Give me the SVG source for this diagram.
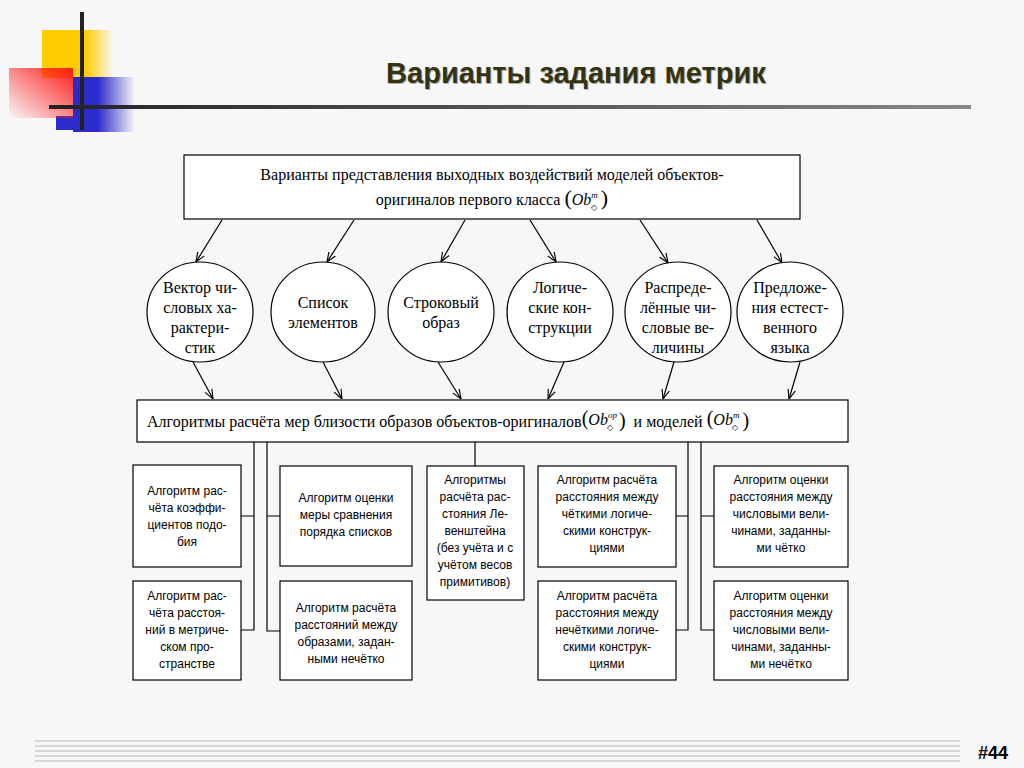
<svg xmlns="http://www.w3.org/2000/svg" width="1024" height="768" viewBox="0 0 1024 768">
<defs>
<linearGradient id="yel" x1="0" x2="1"><stop offset="0.6" stop-color="#ffcc00"/><stop offset="1" stop-color="#ffcc00" stop-opacity="0"/></linearGradient>
<linearGradient id="blu" x1="0" x2="1"><stop offset="0.4" stop-color="#2b2bcc"/><stop offset="1" stop-color="#2b2bcc" stop-opacity="0"/></linearGradient>
<linearGradient id="red" x1="1" y1="0" x2="0" y2="1"><stop offset="0" stop-color="#ff1a1a"/><stop offset="1" stop-color="#ff1a1a" stop-opacity="0"/></linearGradient>
<linearGradient id="hl" x1="0" x2="1"><stop offset="0" stop-color="#222"/><stop offset="1" stop-color="#888"/></linearGradient>
<marker id="ar" viewBox="0 0 10 10" refX="10" refY="5" markerWidth="8" markerHeight="8" orient="auto"><path d="M0,1 L10,5 L0,9" fill="none" stroke="#000" stroke-width="1.2"/></marker>
<style>
.b{fill:#fff;stroke:#000;stroke-width:1.2}
.s{font-family:"Liberation Serif","Times New Roman",serif;font-size:16px;fill:#000;text-anchor:middle}
.st{text-anchor:start}
.a{font-family:"Liberation Sans",sans-serif;font-size:12px;fill:#000;text-anchor:middle}
.c line,.c path{stroke:#000;stroke-width:1.2;fill:none}
.i{font-style:italic}
</style>
</defs>
<rect width="1024" height="768" fill="#f7f7f7"/>
<g id="logo">
<rect x="42" y="30" width="72" height="48" fill="url(#yel)"/>
<rect x="73" y="77" width="62" height="55" fill="url(#blu)"/>
<rect x="56" y="116" width="25" height="14" fill="#2b2bcc"/>
<rect x="9" y="68" width="64" height="50" fill="url(#red)"/>
<rect x="80" y="12" width="4" height="118" fill="#222"/>
<rect x="49" y="105" width="922" height="4" fill="url(#hl)"/>
</g>
<text x="577" y="84" font-family="Liberation Sans,sans-serif" font-size="29" font-weight="bold" fill="#aaa" text-anchor="middle">Варианты задания метрик</text>
<text x="576" y="83" font-family="Liberation Sans,sans-serif" font-size="29" font-weight="bold" fill="#333310" text-anchor="middle">Варианты задания метрик</text>
<g id="top"><rect class="b" x="184" y="155" width="616" height="64"/>
<text class="s" x="492" y="180">Варианты представления выходных воздействий моделей объектов-</text>
<text class="s" x="492" y="205">оригиналов первого класса <tspan font-size="22">(</tspan><tspan class="i">Ob</tspan><tspan class="i" font-size="9" dy="-7">m</tspan><tspan font-size="8" dx="-7" dy="12">◇</tspan><tspan font-size="22" dx="4" dy="-5">)</tspan></text></g>
<g id="e1"><ellipse class="b" cx="200" cy="312" rx="53" ry="50"/><text class="s" x="200" y="293">Вектор чи-</text><text class="s" x="200" y="313">словых ха-</text><text class="s" x="200" y="333">рактери-</text><text class="s" x="200" y="353">стик</text></g>
<g id="e2"><ellipse class="b" cx="323" cy="312" rx="52" ry="50"/><text class="s" x="323" y="308">Список</text><text class="s" x="323" y="328">элементов</text></g>
<g id="e3"><ellipse class="b" cx="441" cy="312" rx="53" ry="50"/><text class="s" x="441" y="308">Строковый</text><text class="s" x="441" y="328">образ</text></g>
<g id="e4"><ellipse class="b" cx="560" cy="312" rx="53" ry="50"/><text class="s" x="560" y="293">Логиче-</text><text class="s" x="560" y="313">ские кон-</text><text class="s" x="560" y="333">струкции</text></g>
<g id="e5"><ellipse class="b" cx="678" cy="312" rx="53" ry="50"/><text class="s" x="678" y="293">Распреде-</text><text class="s" x="678" y="313">лённые чи-</text><text class="s" x="678" y="333">словые ве-</text><text class="s" x="678" y="353">личины</text></g>
<g id="e6"><ellipse class="b" cx="790" cy="312" rx="53" ry="50"/><text class="s" x="790" y="293">Предложе-</text><text class="s" x="790" y="313">ния естест-</text><text class="s" x="790" y="333">венного</text><text class="s" x="790" y="353">языка</text></g>
<g id="bar"><rect class="b" x="137" y="400" width="711" height="42"/>
<text class="s st" x="147" y="427">Алгоритмы расчёта мер близости образов объектов-оригиналов<tspan font-size="20" dy="-2">(</tspan><tspan class="i">Ob</tspan><tspan class="i" font-size="9" dy="-7">op</tspan><tspan font-size="8" dx="-10" dy="12">◇</tspan><tspan font-size="20" dx="6" dy="-3">)</tspan><tspan dx="8">и моделей </tspan><tspan font-size="20" dy="-2">(</tspan><tspan class="i">Ob</tspan><tspan class="i" font-size="9" dy="-7">m</tspan><tspan font-size="8" dx="-7" dy="12">◇</tspan><tspan font-size="20" dx="4" dy="-3">)</tspan></text></g>
<g id="b1"><rect class="b" x="133" y="465" width="108" height="102"/><text class="a" x="187" y="495">Алгоритм рас-</text><text class="a" x="187" y="512">чёта коэффи-</text><text class="a" x="187" y="529">циентов подо-</text><text class="a" x="187" y="546">бия</text></g>
<g id="b2"><rect class="b" x="133" y="581" width="108" height="99"/><text class="a" x="187" y="600">Алгоритм рас-</text><text class="a" x="187" y="617">чёта расстоя-</text><text class="a" x="187" y="634">ний в метриче-</text><text class="a" x="187" y="651">ском про-</text><text class="a" x="187" y="668">странстве</text></g>
<g id="b3"><rect class="b" x="280" y="466" width="132" height="100"/><text class="a" x="346" y="502">Алгоритм оценки</text><text class="a" x="346" y="519">меры сравнения</text><text class="a" x="346" y="536">порядка списков</text></g>
<g id="b4"><rect class="b" x="280" y="581" width="132" height="99"/><text class="a" x="346" y="612">Алгоритм расчёта</text><text class="a" x="346" y="629">расстояний между</text><text class="a" x="346" y="646">образами, задан-</text><text class="a" x="346" y="663">ными нечётко</text></g>
<g id="b5"><rect class="b" x="427" y="466" width="97" height="134"/><text class="a" x="475" y="484">Алгоритмы</text><text class="a" x="475" y="501">расчёта рас-</text><text class="a" x="475" y="518">стояния Ле-</text><text class="a" x="475" y="535">венштейна</text><text class="a" x="475" y="552">(без учёта и с</text><text class="a" x="475" y="569">учётом весов</text><text class="a" x="475" y="586">примитивов)</text></g>
<g id="b6"><rect class="b" x="538" y="466" width="138" height="101"/><text class="a" x="607" y="484">Алгоритм расчёта</text><text class="a" x="607" y="501">расстояния между</text><text class="a" x="607" y="518">чёткими логиче-</text><text class="a" x="607" y="535">скими конструк-</text><text class="a" x="607" y="552">циями</text></g>
<g id="b7"><rect class="b" x="538" y="581" width="138" height="99"/><text class="a" x="607" y="600">Алгоритм расчёта</text><text class="a" x="607" y="617">расстояния между</text><text class="a" x="607" y="634">нечёткими логиче-</text><text class="a" x="607" y="651">скими конструк-</text><text class="a" x="607" y="668">циями</text></g>
<g id="b8"><rect class="b" x="714" y="466" width="134" height="101"/><text class="a" x="781" y="484">Алгоритм оценки</text><text class="a" x="781" y="501">расстояния между</text><text class="a" x="781" y="518">числовыми вели-</text><text class="a" x="781" y="535">чинами, заданны-</text><text class="a" x="781" y="552">ми чётко</text></g>
<g id="b9"><rect class="b" x="714" y="581" width="134" height="99"/><text class="a" x="781" y="600">Алгоритм оценки</text><text class="a" x="781" y="617">расстояния между</text><text class="a" x="781" y="634">числовыми вели-</text><text class="a" x="781" y="651">чинами, заданны-</text><text class="a" x="781" y="668">ми нечётко</text></g>
<g class="c" id="connectors">
<line x1="222" y1="220" x2="196" y2="262" marker-end="url(#ar)"/>
<line x1="354" y1="220" x2="327" y2="262" marker-end="url(#ar)"/>
<line x1="465" y1="220" x2="441" y2="262" marker-end="url(#ar)"/>
<line x1="530" y1="220" x2="556" y2="262" marker-end="url(#ar)"/>
<line x1="640" y1="220" x2="668" y2="263" marker-end="url(#ar)"/>
<line x1="757" y1="220" x2="782" y2="263" marker-end="url(#ar)"/>
<line x1="193" y1="362" x2="213" y2="399" marker-end="url(#ar)"/>
<line x1="323" y1="362" x2="342" y2="399" marker-end="url(#ar)"/>
<line x1="438" y1="362" x2="461" y2="399" marker-end="url(#ar)"/>
<line x1="564" y1="362" x2="548" y2="399" marker-end="url(#ar)"/>
<line x1="674" y1="362" x2="663" y2="399" marker-end="url(#ar)"/>
<line x1="800" y1="362" x2="789" y2="399" marker-end="url(#ar)"/>
<path d="M254,442 V630 H241 M241,516 H254"/>
<path d="M267,442 V631 H280 M280,516 H267"/>
<line x1="475" y1="442" x2="475" y2="466"/>
<path d="M688,442 V630 H676 M676,516 H688"/>
<path d="M701,442 V630 H714 M714,516 H701"/>
</g>
<g id="footer" stroke="#ccc" stroke-width="1.5">
<line x1="35" y1="741" x2="960" y2="741"/><line x1="35" y1="746" x2="960" y2="746"/><line x1="35" y1="751" x2="960" y2="751"/><line x1="35" y1="756" x2="960" y2="756"/><line x1="35" y1="761" x2="960" y2="761"/>
</g>
<text x="1008" y="759" font-family="Liberation Sans,sans-serif" font-size="18" font-weight="bold" fill="#000" text-anchor="end">#44</text>
</svg>
